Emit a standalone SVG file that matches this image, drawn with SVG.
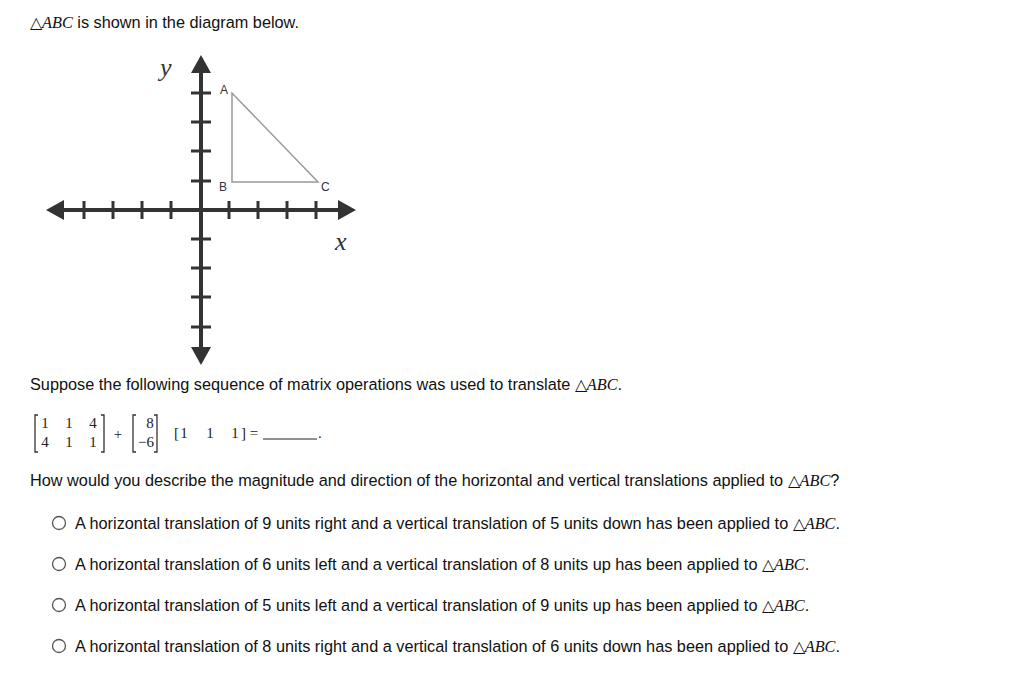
<svg xmlns="http://www.w3.org/2000/svg" width="1024" height="691" viewBox="0 0 1024 691">
<style>
.t{font-family:"Liberation Sans",Arial,sans-serif;font-size:16.3px;fill:#111}
.m{font-family:"Liberation Serif","Times New Roman",serif;font-style:italic;font-size:16.3px}
.s{font-family:"Liberation Serif","Times New Roman",serif;font-size:15px;fill:#222}
.ax{stroke:#333;stroke-width:4;fill:none}
.tk{stroke:#333;stroke-width:3}
.lb{font-family:"Liberation Sans",Arial,sans-serif;font-size:12px;fill:#333}
.br{stroke:#333;stroke-width:1.3;fill:none}
.rd{fill:#fff;stroke:#555;stroke-width:1.3}
</style>
<rect width="1024" height="691" fill="#fff"/>
<text class="t" x="30" y="28">△<tspan class="m">ABC</tspan> is shown in the diagram below.</text>
<g id="graph">
<line class="ax" x1="60" y1="210" x2="342" y2="210"/>
<line class="ax" x1="201" y1="70" x2="201" y2="350"/>
<polygon points="46,210 64,200 64,220" fill="#333"/>
<polygon points="356,210 338,200 338,220" fill="#333"/>
<polygon points="201,55 191,73 211,73" fill="#333"/>
<polygon points="201,365 191,347 211,347" fill="#333"/>
<g class="tk">
<line x1="84" y1="201" x2="84" y2="219"/><line x1="113" y1="201" x2="113" y2="219"/><line x1="142" y1="201" x2="142" y2="219"/><line x1="171" y1="201" x2="171" y2="219"/>
<line x1="229" y1="201" x2="229" y2="219"/><line x1="258" y1="201" x2="258" y2="219"/><line x1="287" y1="201" x2="287" y2="219"/><line x1="316" y1="201" x2="316" y2="219"/>
<line x1="191" y1="93" x2="211" y2="93"/><line x1="191" y1="122" x2="211" y2="122"/><line x1="191" y1="151" x2="211" y2="151"/><line x1="191" y1="181" x2="211" y2="181"/>
<line x1="191" y1="239" x2="211" y2="239"/><line x1="191" y1="268" x2="211" y2="268"/><line x1="191" y1="297" x2="211" y2="297"/><line x1="191" y1="327" x2="211" y2="327"/>
</g>
<polygon points="232,93 232,182 318,182" fill="none" stroke="#999" stroke-width="1.5"/>
<text class="lb" x="220" y="94">A</text>
<text class="lb" x="219" y="191">B</text>
<text class="lb" x="321" y="191">C</text>
<text x="160" y="76" font-family="'Liberation Serif',serif" font-style="italic" font-size="26" fill="#333">y</text>
<text x="335" y="250" font-family="'Liberation Serif',serif" font-style="italic" font-size="26" fill="#333">x</text>
</g>
<text class="t" x="30" y="390">Suppose the following sequence of matrix operations was used to translate △<tspan class="m">ABC</tspan>.</text>
<g id="matrix">
<path class="br" d="M38,415 H35 V452 H38"/>
<path class="br" d="M101,415 H104 V452 H101"/>
<text class="s" x="45" y="428" text-anchor="middle">1</text><text class="s" x="69" y="428" text-anchor="middle">1</text><text class="s" x="93" y="428" text-anchor="middle">4</text>
<text class="s" x="45" y="447" text-anchor="middle">4</text><text class="s" x="69" y="447" text-anchor="middle">1</text><text class="s" x="93" y="447" text-anchor="middle">1</text>
<text class="s" x="118" y="439" text-anchor="middle" font-size="17">+</text>
<path class="br" d="M136,415 H133 V452 H136"/>
<path class="br" d="M154,415 H157 V452 H154"/>
<text class="s" x="150" y="428" text-anchor="middle">8</text><text class="s" x="146" y="447" text-anchor="middle">−6</text>
<text class="s" x="174" y="438">[</text>
<text class="s" x="184" y="438" text-anchor="middle">1</text><text class="s" x="210" y="438" text-anchor="middle">1</text><text class="s" x="235" y="438" text-anchor="middle">1</text>
<text class="s" x="241" y="438">] =</text>
<line x1="263" y1="439" x2="317" y2="439" stroke="#222" stroke-width="1"/>
<text class="s" x="318" y="438">.</text>
</g>
<text class="t" x="30" y="486">How would you describe the magnitude and direction of the horizontal and vertical translations applied to △<tspan class="m">ABC</tspan>?</text>
<g id="options">
<circle class="rd" cx="59" cy="523" r="6.5"/>
<text class="t" x="75" y="529">A horizontal translation of 9 units right and a vertical translation of 5 units down has been applied to △<tspan class="m">ABC</tspan>.</text>
<circle class="rd" cx="59" cy="564" r="6.5"/>
<text class="t" x="75" y="570">A horizontal translation of 6 units left and a vertical translation of 8 units up has been applied to △<tspan class="m">ABC</tspan>.</text>
<circle class="rd" cx="59" cy="605" r="6.5"/>
<text class="t" x="75" y="611">A horizontal translation of 5 units left and a vertical translation of 9 units up has been applied to △<tspan class="m">ABC</tspan>.</text>
<circle class="rd" cx="59" cy="646" r="6.5"/>
<text class="t" x="75" y="652">A horizontal translation of 8 units right and a vertical translation of 6 units down has been applied to △<tspan class="m">ABC</tspan>.</text>
</g>
</svg>
